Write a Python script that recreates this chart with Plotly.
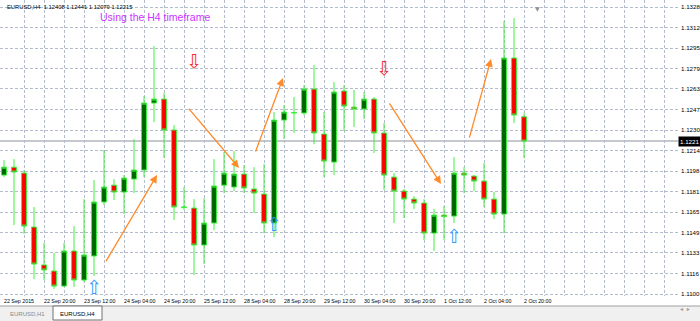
import math
import plotly.graph_objects as go

# ---------------- data (EURUSD, H4) ----------------
opens = [1.11945, 1.12008, 1.11961, 1.11532, 1.11231, 1.11183, 1.11063, 1.11342, 1.11111, 1.11302,
         1.11731, 1.11865, 1.11810, 1.11913, 1.11985, 1.12517, 1.12549, 1.12303, 1.11687, 1.11683,
         1.11389, 1.11564, 1.11865, 1.11850, 1.11953, 1.11834, 1.11794, 1.11564, 1.12382, 1.12438,
         1.12438, 1.12628, 1.12271, 1.12048, 1.12613, 1.12485, 1.12470, 1.12549, 1.12279, 1.11929,
         1.11818, 1.11754, 1.11723, 1.11484, 1.11627, 1.11619, 1.11961, 1.11937, 1.11897, 1.11754,
         1.11635, 1.12875, 1.12408]
highs = [1.12064, 1.12072, 1.11985, 1.11691, 1.11405, 1.11326, 1.11405, 1.11540, 1.11754, 1.11905,
         1.12144, 1.11913, 1.11945, 1.12231, 1.12573, 1.12970, 1.12597, 1.12342, 1.11850, 1.11754,
         1.11762, 1.12072, 1.12128, 1.12136, 1.12024, 1.12008, 1.12032, 1.12446, 1.12501, 1.12565,
         1.12660, 1.12819, 1.12446, 1.12684, 1.12660, 1.12621, 1.12605, 1.12565, 1.12358, 1.11961,
         1.11834, 1.11778, 1.11754, 1.11675, 1.11699, 1.12088, 1.12008, 1.11945, 1.12040, 1.11810,
         1.13169, 1.13193, 1.12441]
lows = [1.11929, 1.11548, 1.11477, 1.11119, 1.11111, 1.11040, 1.11056, 1.11056, 1.11095, 1.11143,
        1.11707, 1.11746, 1.11635, 1.11802, 1.11929, 1.12366, 1.12080, 1.11588, 1.11667, 1.11151,
        1.11238, 1.11508, 1.11802, 1.11818, 1.11802, 1.11643, 1.11484, 1.11453, 1.12231, 1.12279,
        1.12422, 1.12191, 1.11929, 1.11945, 1.12295, 1.12327, 1.12390, 1.12120, 1.11826, 1.11564,
        1.11603, 1.11675, 1.11429, 1.11342, 1.11429, 1.11564, 1.11802, 1.11818, 1.11691, 1.11596,
        1.11484, 1.12358, 1.12079]
closes = [1.12008, 1.11969, 1.11540, 1.11238, 1.11191, 1.11063, 1.11342, 1.11111, 1.11310, 1.11731,
          1.11850, 1.11810, 1.11921, 1.11985, 1.12517, 1.12549, 1.12303, 1.11691, 1.11691, 1.11389,
          1.11564, 1.11858, 1.11961, 1.11953, 1.11842, 1.11802, 1.11564, 1.12382, 1.12446, 1.12442,
          1.12628, 1.12279, 1.12056, 1.12605, 1.12493, 1.12470, 1.12549, 1.12279, 1.11945, 1.11818,
          1.11754, 1.11723, 1.11484, 1.11627, 1.11615, 1.11961, 1.11945, 1.11897, 1.11754, 1.11635,
          1.12875, 1.12422, 1.12215]
bars = list(range(len(opens)))

date_tick_bars = [0, 4, 8, 12, 16, 20, 24, 28, 32, 36, 40, 44, 48, 52]
date_tick_labels = ["22 Sep 2015", "22 Sep 20:00", "23 Sep 12:00", "24 Sep 04:00", "24 Sep 20:00",
                    "25 Sep 12:00", "28 Sep 04:00", "28 Sep 20:00", "29 Sep 12:00", "30 Sep 04:00",
                    "30 Sep 20:00", "1 Oct 12:00", "2 Oct 04:00", "2 Oct 20:00"]
grid_bars = list(range(2, 67, 2))

price_tick_values = [1.11000, 1.11163, 1.11326, 1.11489, 1.11651, 1.11814, 1.11977, 1.12140,
                     1.12303, 1.12466, 1.12629, 1.12791, 1.12954, 1.13117, 1.13280]
price_tick_labels = ["1.1100", "1.1116", "1.1133", "1.1149", "1.1165", "1.1181", "1.1198", "1.1214",
                     "1.1230", "1.1247", "1.1263", "1.1279", "1.1295", "1.1312", "1.1328"]

# trend arrows: (tail bar, tail price, head bar, head price)
trend_arrows = [(10.1, 1.11247, 15.3, 1.11945),
                (18.35, 1.12485, 23.5, 1.12001),
                (25.1, 1.12120, 27.9, 1.12716),
                (38.45, 1.12526, 43.7, 1.11874),
                (46.5, 1.12231, 48.7, 1.12867)]
# signal arrows: (bar, price)
buy_signals = [(9, 1.11058), (27, 1.11560), (45, 1.11461)]
sell_signals = [(19, 1.12850), (38, 1.12796)]

symbol_label = "EURUSD,H4"
title_note = "Using the H4 timeframe"
tab_labels = ["EURUSD,H1", "EURUSD,H4"]

# ---------------- figure ----------------
W, H = 700, 321
ML, MR, MT, MB = 0, 22, 0, 25
plot_h = H - MT - MB

FONT = "Liberation Sans, Arial, sans-serif"
WICK = "#3cf03c"

fig = go.Figure()
fig.add_trace(go.Candlestick(
    x=bars, open=opens, high=highs, low=lows, close=closes,
    increasing=dict(line=dict(color=WICK, width=1), fillcolor="#006400"),
    decreasing=dict(line=dict(color=WICK, width=1), fillcolor="#ff0000"),
    whiskerwidth=0, showlegend=False, hoverinfo="skip",
))
# invisible helper so the date-label axis is drawn
fig.add_trace(go.Scatter(x=[date_tick_bars[0]], y=[closes[0]], xaxis="x2", yaxis="y",
                         mode="markers", marker=dict(opacity=0), hoverinfo="skip", showlegend=False))

def ypaper(px):
    return (plot_h - px) / plot_h

PW = W - MR
last = closes[-1]
shapes = [
    dict(type="line", xref="paper", yref="y", x0=0, x1=1, y0=last, y1=last,
         line=dict(color="#c4c8cc", width=2), layer="below"),
    # bottom tab bar
    dict(type="rect", xref="paper", yref="paper", x0=0, x1=W / PW, y0=ypaper(306), y1=ypaper(H + 2),
         fillcolor="#f0f0f0", line=dict(width=0)),
    dict(type="line", xref="paper", yref="paper", x0=0, x1=W / PW, y0=ypaper(306), y1=ypaper(306),
         line=dict(color="#a0a0a0", width=1)),
    dict(type="rect", xref="paper", yref="paper", x0=53 / PW, x1=102 / PW,
         y0=ypaper(320), y1=ypaper(306), fillcolor="#ffffff", line=dict(color="#707070", width=1)),
]

annotations = []
for x0, y0, x1, y1 in trend_arrows:
    annotations.append(dict(x=x1, y=y1, ax=x0, ay=y0, xref="x", yref="y", axref="x", ayref="y",
                            text="", showarrow=True, arrowhead=2, arrowsize=1.2, arrowwidth=1.3,
                            arrowcolor="#ff8a2a"))
for b, p in buy_signals:
    annotations.append(dict(x=b, y=p, xref="x", yref="y", text="⇧", showarrow=False,
                            font=dict(family="DejaVu Sans", size=19, color="#2f9bff"),
                            xanchor="center", yanchor="middle"))
for b, p in sell_signals:
    annotations.append(dict(x=b, y=p, xref="x", yref="y", text="⇩", showarrow=False,
                            font=dict(family="DejaVu Sans", size=19, color="#ff2a2a"),
                            xanchor="center", yanchor="middle"))

hdr = f"{symbol_label}  {opens[-1]:.5f} {highs[-1]:.5f} {lows[-1]:.5f} {closes[-1]:.5f}"
annotations.append(dict(x=5 / PW, y=ypaper(7), xref="paper", yref="paper", text=hdr,
                        showarrow=False, xanchor="left", yanchor="middle",
                        font=dict(family=FONT, size=5.8, color="#000000")))
annotations.append(dict(x=98 / PW, y=ypaper(17), xref="paper", yref="paper", text=title_note,
                        showarrow=False, xanchor="left", yanchor="middle",
                        font=dict(family="Liberation Sans", size=10.5, color="#cc33ff")))
# current price box
annotations.append(dict(x=1, y=last, xref="paper", yref="y", xshift=0,
                        text=f"{int(last * 10000) / 10000:.4f}", showarrow=False,
                        xanchor="left", yanchor="middle", bgcolor="#000000", borderpad=1,
                        font=dict(family=FONT, size=6.2, color="#ffffff")))
# chart shift marker
annotations.append(dict(x=542 / PW, y=ypaper(3), xref="paper", yref="paper", text="▼",
                        showarrow=False, font=dict(family="DejaVu Sans", size=6, color="#909090")))
# tabs
annotations.append(dict(x=27.5 / PW, y=ypaper(313.5), xref="paper", yref="paper", text=tab_labels[0],
                        showarrow=False, xanchor="center", yanchor="middle",
                        font=dict(family=FONT, size=6, color="#8a8a8a")))
annotations.append(dict(x=77.5 / PW, y=ypaper(313.5), xref="paper", yref="paper", text=tab_labels[1],
                        showarrow=False, xanchor="center", yanchor="middle",
                        font=dict(family=FONT, size=6, color="#000000")))
annotations.append(dict(x=692 / PW, y=ypaper(314), xref="paper", yref="paper", text="◂  ▸",
                        showarrow=False, font=dict(family="DejaVu Sans", size=6, color="#9a9a9a")))

GRID = "#b4bccb"
fig.update_layout(
    width=W, height=H, margin=dict(l=ML, r=MR, t=MT, b=MB),
    paper_bgcolor="#ffffff", plot_bgcolor="#ffffff",
    shapes=shapes, annotations=annotations,
    xaxis=dict(range=[-0.4, PW / 10 - 0.4], rangeslider=dict(visible=False),
               tickmode="array", tickvals=grid_bars, ticktext=["" for _ in grid_bars],
               showgrid=True, gridcolor=GRID, griddash="3px,2px", gridwidth=1,
               zeroline=False, showline=False, ticks=""),
    xaxis2=dict(overlaying="x", matches="x", anchor="y", side="bottom", tickmode="array",
                tickvals=date_tick_bars, ticktext=date_tick_labels, showgrid=False,
                zeroline=False, showline=False, ticks="", ticklabelposition="outside right",
                tickangle=0, ticklabelstandoff=1,
                tickfont=dict(family=FONT, size=5.3, color="#000000")),
    yaxis=dict(range=[1.13336 - plot_h * 0.00007945, 1.13336], side="right",
               tickmode="array", tickvals=price_tick_values, ticktext=price_tick_labels,
               showgrid=True, gridcolor=GRID, griddash="3px,2px", gridwidth=1,
               zeroline=False, showline=False, ticks="", ticklabelstandoff=2,
               tickfont=dict(family=FONT, size=6.2, color="#000000")),
)
fig.write_html("out.html")
